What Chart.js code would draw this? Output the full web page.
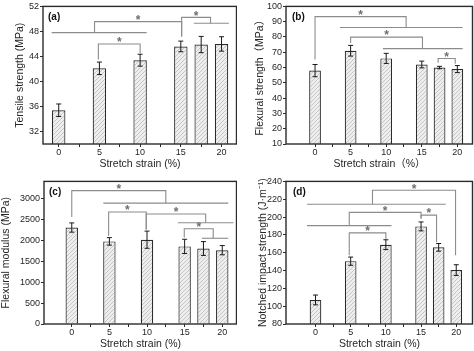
<!DOCTYPE html>
<html>
<head>
<meta charset="utf-8">
<script src="https://cdn.jsdelivr.net/npm/chart.js@4.4.1/dist/chart.umd.min.js"></script>
<style>
  html, body { margin: 0; padding: 0; background: #fff; }
  #wrap { position: relative; width: 474px; height: 351px; }
  canvas { position: absolute; }
</style>
</head>
<body>
<div id="wrap">
  <canvas id="chartA" width="237" height="175" style="left:0;top:0"></canvas>
  <canvas id="chartB" width="237" height="175" style="left:237px;top:0"></canvas>
  <canvas id="chartC" width="237" height="176" style="left:0;top:175px"></canvas>
  <canvas id="chartD" width="237" height="176" style="left:237px;top:175px"></canvas>
</div>
<script>
// Stretch strain levels (x positions of the bars) and x tick marks
const strain = [0, 5, 10, 15, 17.5, 20];
const xTicks = [0, 2.5, 5, 7.5, 10, 12.5, 15, 17.5, 20];

// (a) tensile strength
const tensile = [35.4, 42.1, 43.4, 45.6, 45.9, 46.0];
const tensileErr = [1.0, 1.0, 0.95, 0.85, 1.3, 1.15];
const tensileTicks = [32, 36, 40, 44, 48, 52];

// (b) flexural strength
const flexStrength = [58, 71, 66, 62, 60, 59];
const flexStrengthErr = [4, 3.5, 3.3, 2.2, 0.8, 2.3];
const flexStrengthTicks = [10, 20, 30, 40, 50, 60, 70, 80, 90, 100];

// (c) flexural modulus
const flexModulus = [2300, 1970, 2010, 1850, 1800, 1760];
const flexModulusErr = [110, 90, 205, 170, 165, 110];
const flexModulusTicks = [0, 500, 1000, 1500, 2000, 2500, 3000];

// (d) notched impact strength
const impact = [107, 150.5, 169, 189.5, 166, 140.5];
const impactErr = [5.5, 4.6, 5.5, 5, 4.3, 6];
const impactTicks = [80, 100, 120, 140, 160, 180, 200, 220, 240];

// significance brackets: [xLeft, yLeftEnd, xRight, yRightEnd, yTop]
const bracketsA = [[4.4, 47.8, 15.1, 47.2, 49.57], [15.1, 47.2, 18.65, 49.3, 50.25], [4.87, 43.5, 10.0, 44.5, 46.0]];
const bracketsB = [[0, 65.3, 12.8, 86.2, 93.3], [5.0, 76, 15.1, 72.4, 79.9], [17.3, 63.1, 19.7, 62.5, 65.9]];
const bracketsC = [[0, 2554, 12.5, 2883, 3180], [4.9, 2099, 9.9, 2256, 2671], [9.9, 2256, 17.8, 2413, 2624], [14.95, 2060, 18.8, 2044, 2272]];
const bracketsD = [[8.1, 214.4, 19.9, 157, 230], [4.8, 190.4, 15.0, 198.5, 205.2], [15.0, 198.5, 17.2, 171.8, 202.2], [4.8, 157, 10.0, 175.5, 182.2]];

// group lines: [xStart, xEnd, y]
const groupsA = [[-0.86, 10.8, 47.8], [16.6, 20.9, 49.3]];
const groupsB = [[3.5, 20.75, 86.2], [9.55, 20.75, 72.4]];
const groupsC = [[4.2, 20.8, 2883], [14.1, 21.5, 2413], [17.3, 20.8, 2044]];
const groupsD = [[-1.2, 18.5, 214.4], [-1.2, 10.8, 190.4]];

const fontFamily = '"Liberation Sans", Arial, "Noto Sans CJK SC", sans-serif';
const textColor = '#262626';

// diagonal hatch fill for the bars
function hatchPattern() {
  const c = document.createElement('canvas');
  c.width = 4;
  c.height = 4;
  const g = c.getContext('2d');
  g.fillStyle = '#eeeeee';
  g.fillRect(0, 0, 4, 4);
  g.strokeStyle = '#b4b4b4';
  g.lineWidth = 0.7;
  g.beginPath();
  g.moveTo(0, 4); g.lineTo(4, 0);
  g.moveTo(-1, 1); g.lineTo(1, -1);
  g.moveTo(3, 5); g.lineTo(5, 3);
  g.stroke();
  return g.createPattern(c, 'repeat');
}

// frame, error bars, brackets and panel letter
const decorations = {
  id: 'decorations',
  afterDatasetsDraw(chart, args, opts) {
    const { ctx, chartArea: a } = chart;
    const xs = chart.scales.x;
    const ys = chart.scales.y;
    ctx.save();

    // axis frame
    ctx.strokeStyle = '#2b2b2b';
    ctx.lineWidth = 1.4;
    ctx.strokeRect(a.left, a.top, a.right - a.left - 0.5, a.bottom - a.top);

    // error bars
    const meta = chart.getDatasetMeta(0);
    ctx.strokeStyle = '#1a1a1a';
    ctx.lineWidth = 1;
    meta.data.forEach((bar, i) => {
      const v = opts.values[i];
      const e = opts.errors[i];
      const yHi = ys.getPixelForValue(v + e);
      const yLo = ys.getPixelForValue(v - e);
      ctx.beginPath();
      ctx.moveTo(bar.x, yHi); ctx.lineTo(bar.x, yLo);
      ctx.moveTo(bar.x - 2.5, yHi); ctx.lineTo(bar.x + 2.5, yHi);
      ctx.moveTo(bar.x - 2.5, yLo); ctx.lineTo(bar.x + 2.5, yLo);
      ctx.stroke();
    });

    // significance lines
    ctx.strokeStyle = '#8c8c8c';
    ctx.lineWidth = 1.1;
    opts.groups.forEach(g => {
      ctx.beginPath();
      ctx.moveTo(xs.getPixelForValue(g[0]), ys.getPixelForValue(g[2]));
      ctx.lineTo(xs.getPixelForValue(g[1]), ys.getPixelForValue(g[2]));
      ctx.stroke();
    });
    ctx.fillStyle = '#6e6e6e';
    ctx.font = 'bold 12px ' + fontFamily;
    ctx.textAlign = 'center';
    ctx.textBaseline = 'middle';
    opts.brackets.forEach(b => {
      const x1 = xs.getPixelForValue(b[0]);
      const x2 = xs.getPixelForValue(b[2]);
      const top = ys.getPixelForValue(b[4]);
      ctx.beginPath();
      ctx.moveTo(x1, ys.getPixelForValue(b[1]));
      ctx.lineTo(x1, top);
      ctx.lineTo(x2, top);
      ctx.lineTo(x2, ys.getPixelForValue(b[3]));
      ctx.stroke();
      ctx.fillText('*', (x1 + x2) / 2, top - 1);
    });

    // panel letter
    ctx.fillStyle = '#111';
    ctx.font = 'bold 10px ' + fontFamily;
    ctx.textAlign = 'left';
    ctx.fillText(opts.label, a.left + opts.labelDx, a.top + 11);
    ctx.restore();
  },
};

function makePanel(id, cfg) {
  const ctx = document.getElementById(id).getContext('2d');
  return new Chart(ctx, {
    type: 'bar',
    data: {
      datasets: [
        {
          data: strain.map((x, i) => ({ x: x, y: cfg.values[i] })),
          backgroundColor: hatchPattern(),
          borderColor: '#2b2b2b',
          borderWidth: 1.2,
          categoryPercentage: 1,
          barPercentage: 0.66,
        },
      ],
    },
    options: {
      responsive: false,
      animation: false,
      devicePixelRatio: 1,
      layout: { padding: { top: 5, right: cfg.padRight, left: 0, bottom: 0 } },
      plugins: {
        legend: { display: false },
        tooltip: { enabled: false },
        decorations: {
          values: cfg.values,
          errors: cfg.errors,
          brackets: cfg.brackets,
          groups: cfg.groups,
          label: cfg.label,
          labelDx: cfg.labelDx,
        },
      },
      scales: {
        x: {
          type: 'linear',
          min: cfg.xMin,
          max: cfg.xMax,
          offset: false,
          afterBuildTicks: s => { s.ticks = xTicks.map(v => ({ value: v })); },
          afterFit: s => { s.height = cfg.xHeight; },
          grid: { offset: false, drawOnChartArea: false, tickLength: 3, color: '#2b2b2b' },
          border: { display: false },
          ticks: {
            autoSkip: false,
            maxRotation: 0,
            padding: 0,
            color: textColor,
            font: { family: fontFamily, size: 9 },
            callback: v => (v % 5 === 0 ? String(v) : ''),
          },
          title: {
            display: true,
            text: cfg.xTitle,
            color: textColor,
            font: { family: fontFamily, size: 10.5 },
            padding: { top: 0, bottom: cfg.xTitlePad },
          },
        },
        y: {
          min: cfg.yMin,
          max: cfg.yMax,
          afterBuildTicks: s => { s.ticks = cfg.yTicks.map(v => ({ value: v })); },
          afterFit: s => { s.width = cfg.yWidth; },
          grid: { drawOnChartArea: false, tickLength: 3, color: '#2b2b2b' },
          border: { display: false },
          ticks: {
            padding: 1,
            color: textColor,
            font: { family: fontFamily, size: 9 },
            callback: v => String(v),
          },
          title: {
            display: true,
            text: cfg.yTitle,
            color: textColor,
            font: { family: fontFamily, size: 10.5 },
            padding: { top: cfg.yTitlePad, bottom: 0 },
          },
        },
      },
    },
    plugins: [decorations],
  });
}

document.addEventListener('DOMContentLoaded', function () {
  makePanel('chartA', {
    values: tensile, errors: tensileErr, brackets: bracketsA, groups: groupsA, label: '(a)', labelDx: 5,
    xMin: -1.93, xMax: 21.9, yMin: 30, yMax: 52, yTicks: tensileTicks,
    yWidth: 43, xHeight: 31, padRight: 0, xTitlePad: 5, yTitlePad: 13.5,
    xTitle: 'Stretch strain (%)', yTitle: 'Tensile strength (MPa)',
  });
  makePanel('chartB', {
    values: flexStrength, errors: flexStrengthErr, brackets: bracketsB, groups: groupsB, label: '(b)', labelDx: 6,
    xMin: -4.08, xMax: 22.2, yMin: 10, yMax: 100, yTicks: flexStrengthTicks,
    yWidth: 49, xHeight: 31, padRight: 1, xTitlePad: 5, yTitlePad: 16.5,
    xTitle: 'Stretch strain（%）', yTitle: 'Flexural strength（MPa）',
  });
  makePanel('chartC', {
    values: flexModulus, errors: flexModulusErr, brackets: bracketsC, groups: groupsC, label: '(c)', labelDx: 5,
    xMin: -3.69, xMax: 21.96, yMin: 0, yMax: 3400, yTicks: flexModulusTicks,
    yWidth: 44, xHeight: 27, padRight: 0, xTitlePad: 1, yTitlePad: 0,
    xTitle: 'Stretch strain (%)', yTitle: 'Flexural modulus (MPa)',
  });
  makePanel('chartD', {
    values: impact, errors: impactErr, brackets: bracketsD, groups: groupsD, label: '(d)', labelDx: 7,
    xMin: -4.19, xMax: 22.38, yMin: 80, yMax: 240, yTicks: impactTicks,
    yWidth: 49, xHeight: 27, padRight: 1, xTitlePad: 1, yTitlePad: 20,
    xTitle: 'Stretch strain (%)', yTitle: 'Notched impact strength (J·m⁻¹)',
  });
});
</script>
</body>
</html>
